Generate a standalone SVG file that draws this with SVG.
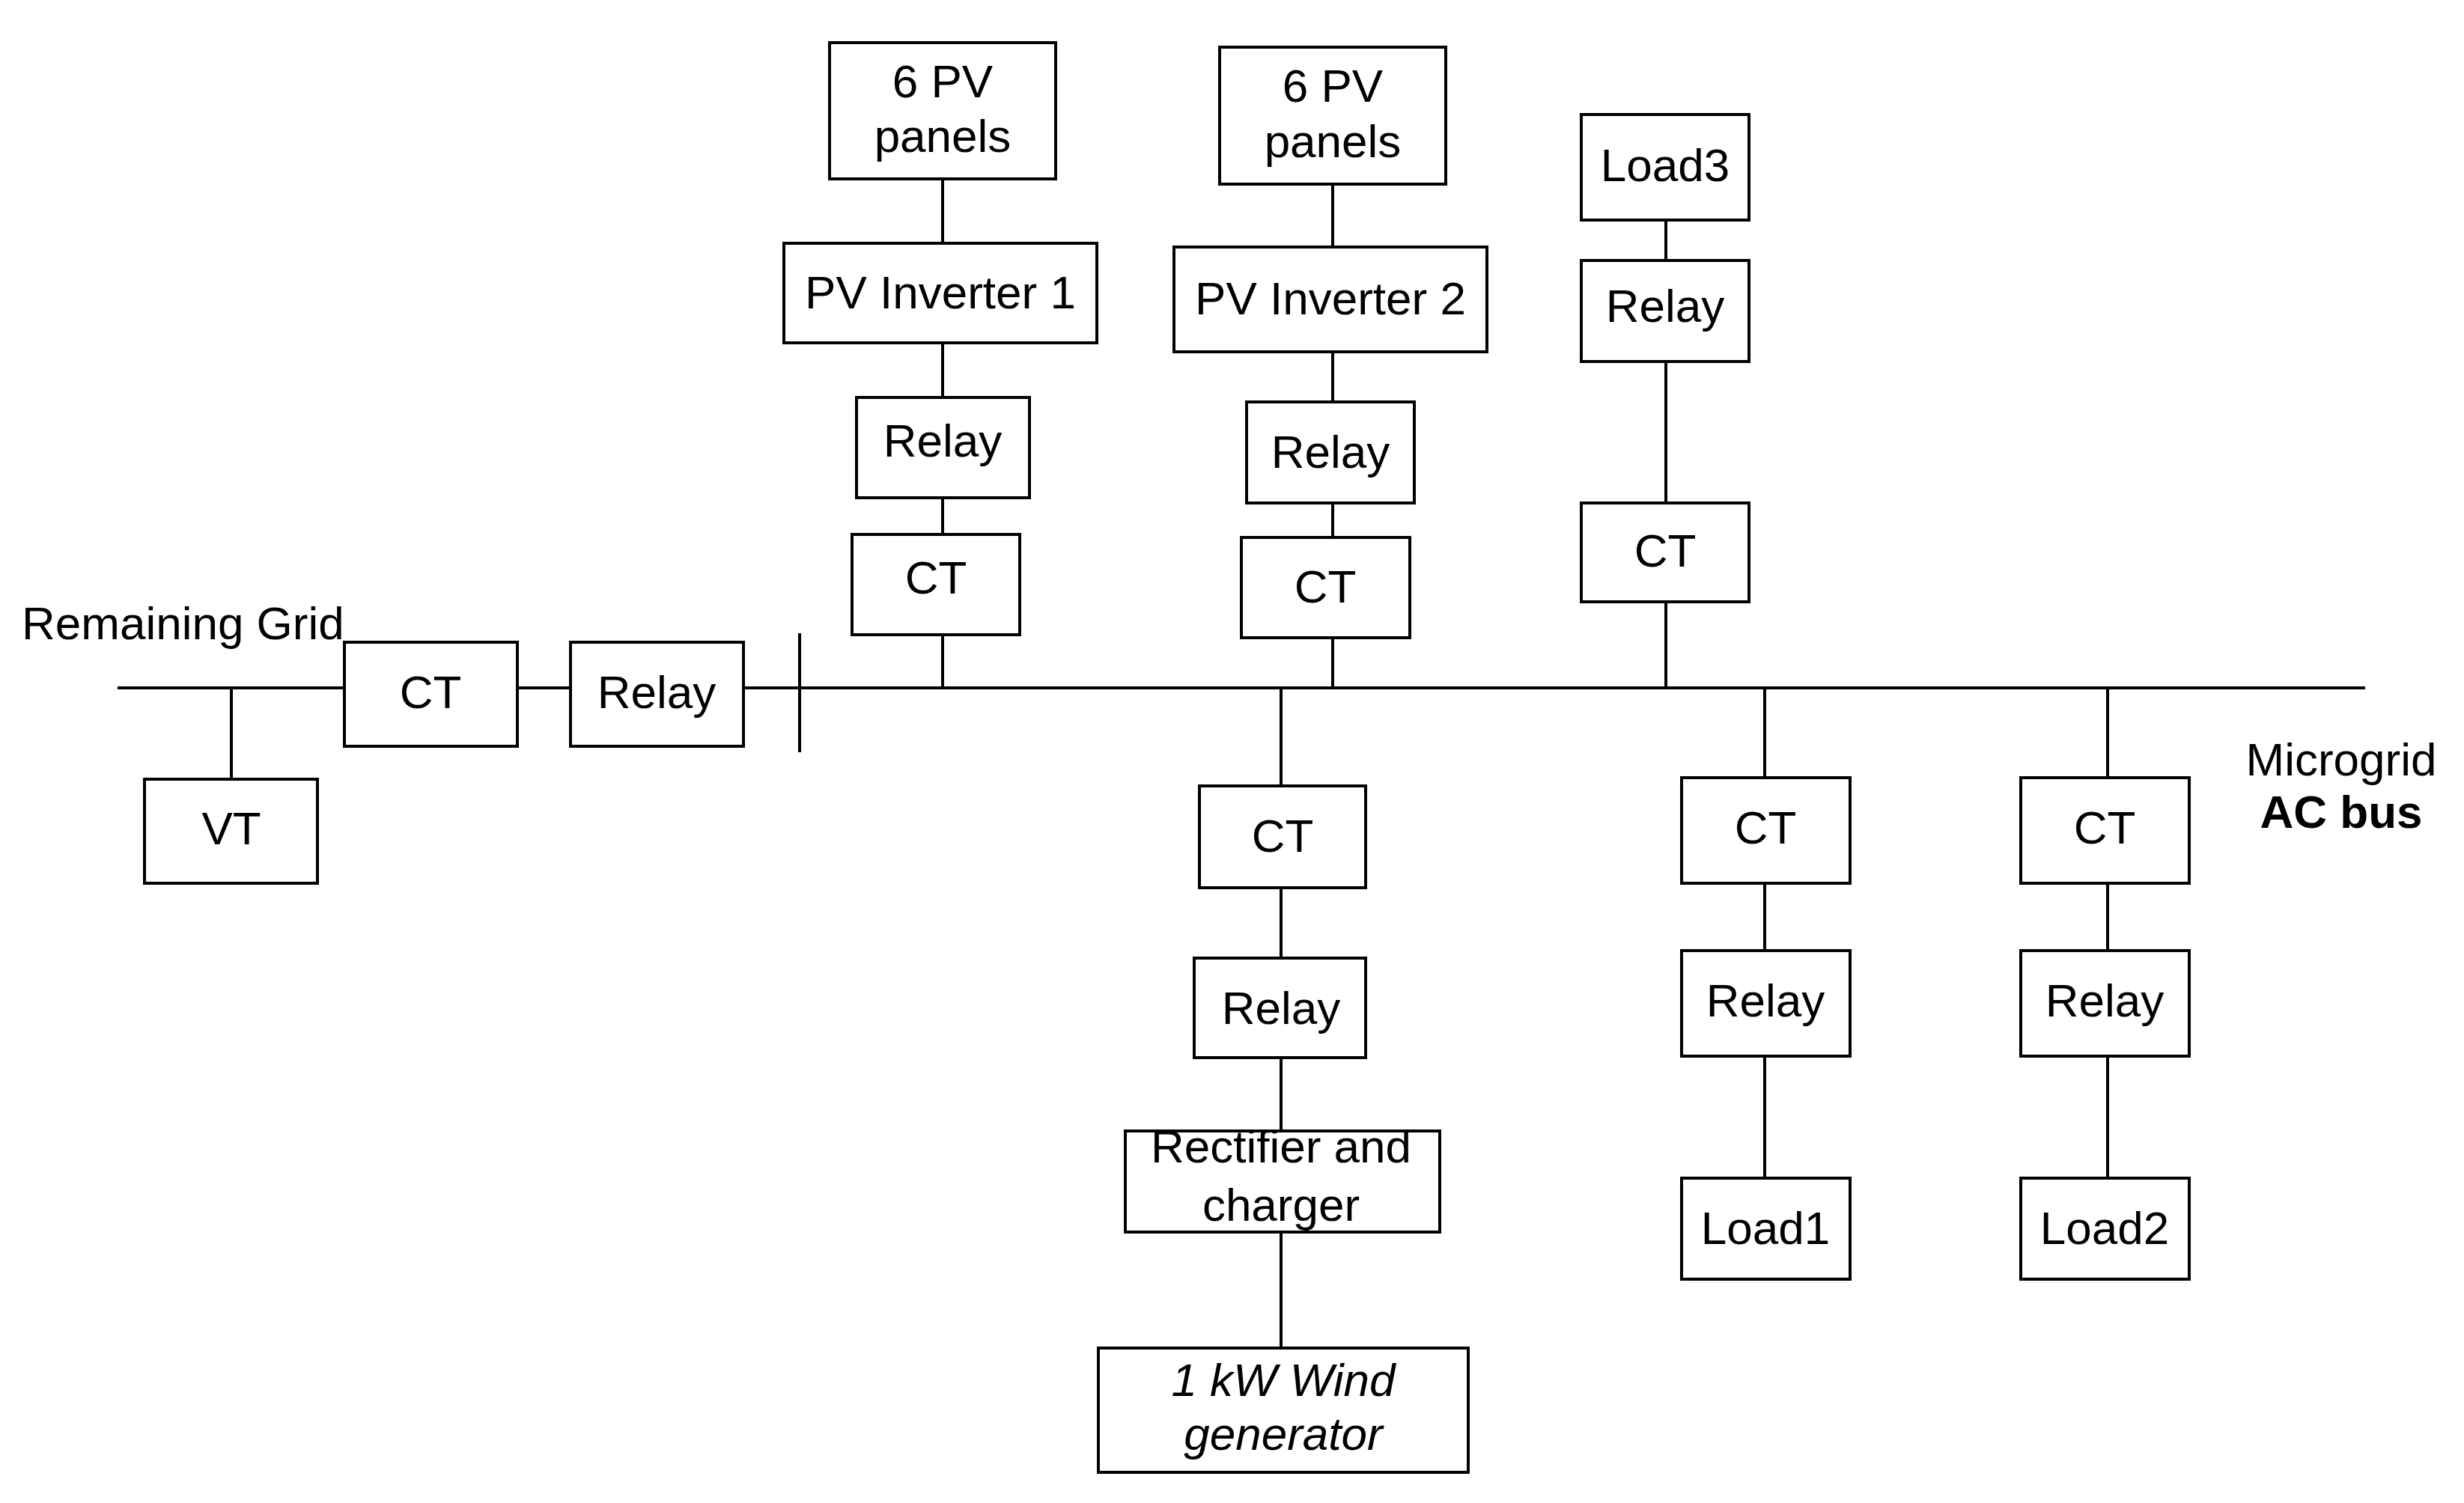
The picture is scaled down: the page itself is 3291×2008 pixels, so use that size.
<svg xmlns="http://www.w3.org/2000/svg" width="3291" height="2008" viewBox="0 0 3291 2008">
<style>
.b rect{fill:#fff;stroke:#000;stroke-width:4}
.b text,.t{font-family:"Liberation Sans",Arial,sans-serif;font-size:62px;fill:#000;text-anchor:middle}
.c line{stroke:#000;stroke-width:4}
</style>
<rect width="3291" height="2008" fill="#fff"/>
<g class="c">
<line x1="157" y1="919" x2="1068" y2="919"/>
<line x1="1068" y1="919" x2="3159" y2="919" stroke-width="9"/>
<line x1="1068" y1="846" x2="1068" y2="1005" stroke-width="11"/>
<line x1="309" y1="919" x2="309" y2="1041"/>
<line x1="1259" y1="239" x2="1259" y2="325"/>
<line x1="1259" y1="458" x2="1259" y2="531"/>
<line x1="1259" y1="665" x2="1259" y2="714"/>
<line x1="1259" y1="848" x2="1259" y2="919"/>
<line x1="1780" y1="246" x2="1780" y2="330"/>
<line x1="1780" y1="470" x2="1780" y2="537"/>
<line x1="1780" y1="672" x2="1780" y2="718"/>
<line x1="1780" y1="852" x2="1780" y2="919"/>
<line x1="2225" y1="294" x2="2225" y2="348"/>
<line x1="2225" y1="483" x2="2225" y2="672"/>
<line x1="2225" y1="804" x2="2225" y2="919"/>
<line x1="1711" y1="919" x2="1711" y2="1050" stroke-width="9"/>
<line x1="1711" y1="1186" x2="1711" y2="1280"/>
<line x1="1711" y1="1413" x2="1711" y2="1511"/>
<line x1="1711" y1="1646" x2="1711" y2="1801"/>
<line x1="2357" y1="919" x2="2357" y2="1039"/>
<line x1="2357" y1="1180" x2="2357" y2="1270"/>
<line x1="2357" y1="1411" x2="2357" y2="1574"/>
<line x1="2815" y1="919" x2="2815" y2="1039"/>
<line x1="2815" y1="1180" x2="2815" y2="1270"/>
<line x1="2815" y1="1411" x2="2815" y2="1574"/>
</g>
<g id="pv1" class="b"><rect x="1108" y="57" width="302" height="182"/><text x="1259" y="130">6 PV</text><text x="1259" y="203">panels</text></g>
<g id="inv1" class="b"><rect x="1047" y="325" width="418" height="133"/><text x="1256" y="412">PV Inverter 1</text></g>
<g id="relay1" class="b"><rect x="1144" y="531" width="231" height="134"/><text x="1259" y="610">Relay</text></g>
<g id="ct1" class="b"><rect x="1138" y="714" width="224" height="134"/><text x="1250" y="793">CT</text></g>
<g id="pv2" class="b"><rect x="1629" y="63" width="302" height="183"/><text x="1780" y="136">6 PV</text><text x="1780" y="210">panels</text></g>
<g id="inv2" class="b"><rect x="1568" y="330" width="418" height="140"/><text x="1777" y="420">PV Inverter 2</text></g>
<g id="relay2" class="b"><rect x="1665" y="537" width="224" height="135"/><text x="1777" y="625">Relay</text></g>
<g id="ct2" class="b"><rect x="1658" y="718" width="225" height="134"/><text x="1770" y="805">CT</text></g>
<g id="load3" class="b"><rect x="2112" y="153" width="224" height="141"/><text x="2224" y="242">Load3</text></g>
<g id="relay3" class="b"><rect x="2112" y="348" width="224" height="135"/><text x="2224" y="430">Relay</text></g>
<g id="ct3" class="b"><rect x="2112" y="672" width="224" height="132"/><text x="2224" y="757">CT</text></g>
<g id="ctg" class="b"><rect x="460" y="858" width="231" height="139"/><text x="575" y="946">CT</text></g>
<g id="relayg" class="b"><rect x="762" y="858" width="231" height="139"/><text x="877" y="946">Relay</text></g>
<g id="vt" class="b"><rect x="193" y="1041" width="231" height="139"/><text x="309" y="1128">VT</text></g>
<g id="ctw" class="b"><rect x="1602" y="1050" width="222" height="136"/><text x="1713" y="1138">CT</text></g>
<g id="relayw" class="b"><rect x="1595" y="1280" width="229" height="133"/><text x="1711" y="1368">Relay</text></g>
<g id="rect" class="b"><rect x="1503" y="1511" width="420" height="135"/><text x="1711" y="1553">Rectifier and</text><text x="1711" y="1631">charger</text></g>
<g id="wind" class="b"><rect x="1467" y="1801" width="494" height="166"/><text x="1714" y="1865" font-style="italic">1 kW Wind</text><text x="1714" y="1937" font-style="italic">generator</text></g>
<g id="ctl1" class="b"><rect x="2246" y="1039" width="225" height="141"/><text x="2358" y="1127">CT</text></g>
<g id="relayl1" class="b"><rect x="2246" y="1270" width="225" height="141"/><text x="2358" y="1358">Relay</text></g>
<g id="load1" class="b"><rect x="2246" y="1574" width="225" height="135"/><text x="2358" y="1662">Load1</text></g>
<g id="ctl2" class="b"><rect x="2699" y="1039" width="225" height="141"/><text x="2811" y="1127">CT</text></g>
<g id="relayl2" class="b"><rect x="2699" y="1270" width="225" height="141"/><text x="2811" y="1358">Relay</text></g>
<g id="load2" class="b"><rect x="2699" y="1574" width="225" height="135"/><text x="2811" y="1662">Load2</text></g>
<text class="t" x="29" y="854" style="text-anchor:start">Remaining Grid</text>
<text class="t" x="3127" y="1036">Microgrid</text>
<text class="t" x="3127" y="1106" font-weight="bold">AC bus</text>
</svg>
